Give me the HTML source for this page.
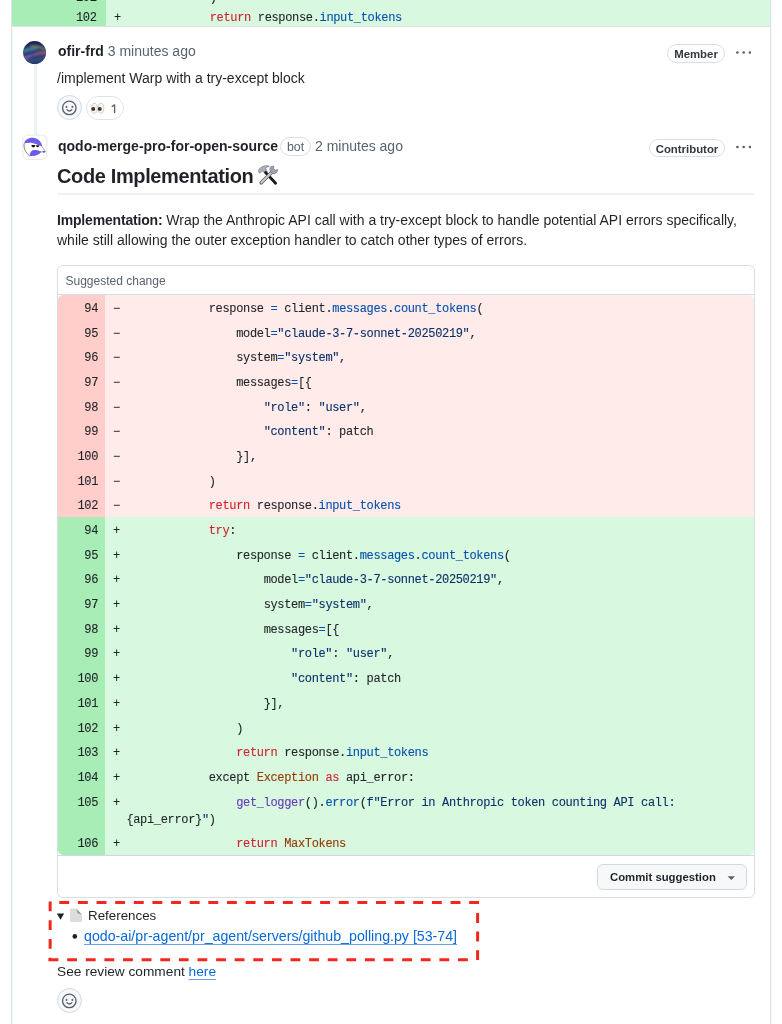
<!DOCTYPE html>
<html><head><meta charset="utf-8">
<style>
*{box-sizing:border-box;margin:0;padding:0}
html,body{width:782px;height:1024px;overflow:hidden;background:#fff}
body{position:relative;font-family:"Liberation Sans",sans-serif;color:#1f2328;font-size:14px}
.abs{position:absolute}
.mono{font-family:"Liberation Mono",monospace}
/* outer timeline container borders */
#lb{left:11px;top:0;width:1px;height:1024px;background:#dde2e7;box-shadow:0.6px 0 0 #f1f3f5}
#rb{left:770px;top:0;width:1px;height:1024px;background:#dde2e7;box-shadow:0.6px 0 0 #f1f3f5}
/* top diff row */
#toprow{left:12px;top:-14px;width:758px;height:40px;overflow:hidden}
.row{display:flex;width:100%}
.num{flex:none;text-align:right;font-family:"Liberation Mono",monospace;font-size:12px;letter-spacing:-0.34px;line-height:17px;padding:5.85px 7px 1.85px 0;color:#1f2328;-webkit-text-stroke:0.1px}
.t{display:inline-block;transform:scaleY(1.12);transform-origin:0 12px}
.code{flex:1;position:relative;font-family:"Liberation Mono",monospace;font-size:12px;letter-spacing:-0.34px;line-height:17px;padding:5.85px 10px 1.85px 21.4px;white-space:pre-wrap;word-wrap:break-word;color:#1f2328;-webkit-text-stroke:0.1px}
.mk{position:absolute;left:8px;top:5.85px}
.del .num{background:#ffcecb}
.del .code{background:#ffebe9}
.add .num{background:#a8ecb6}
.add .code{background:#d8f9df}
#sugg{left:57px;top:265px;width:698px;height:633px;border:1px solid #d8dee4;border-radius:6px}
#sugg .hdr{height:29px;border-bottom:1px solid #d8dee4;font-size:12px;color:#59636e;padding:8px 0 0 7.5px;line-height:14px}
#sugg .num{width:47px}
#toprow .num{width:94px;padding-right:9.5px}
.tl{left:33.6px;width:3px;background:#eff2f5}
.name{font-weight:bold}
.muted{color:#59636e}
.badge{border:1px solid #d8dee4;border-radius:10px;font-size:11.4px;font-weight:bold;color:#33393f;line-height:18px;text-align:center}
.btn-react{border-radius:50%;border:1px solid #d1d9e0;background:#f6f8fa}
</style></head>
<body>
<div id="root" style="position:absolute;left:0;top:0;width:782px;height:1024px;will-change:transform">
<div id="lb" class="abs"></div>
<div id="rb" class="abs"></div>

<div id="toprow" class="abs">
 <div class="row add" style="height:20px"><div class="num" style="padding-top:4px">101</div><div class="code" style="padding-top:4px"><span class="mk" style="top:4px">+</span>            )</div></div>
 <div class="row add" style="height:20px"><div class="num" style="padding-top:4px">102</div><div class="code" style="padding-top:4px"><span class="mk" style="top:4px">+</span>            <span style="color:#cf222e">return</span> response.<span style="color:#0550ae">input_tokens</span></div></div>
</div>
<div class="abs" style="left:12px;top:26px;width:758px;height:1px;background:#dde2e7"></div>

<!-- timeline line -->
<div class="abs tl" style="top:64px;height:72px"></div>

<!-- comment 1 -->
<svg class="abs" style="left:20px;top:38px" width="30" height="30" viewBox="0 0 30 30">
 <defs><clipPath id="av"><circle cx="14.6" cy="14.6" r="11.5"/></clipPath>
 <filter id="bl" x="-20%" y="-20%" width="140%" height="140%"><feGaussianBlur stdDeviation="0.9"/></filter>
 <linearGradient id="avg" x1="0" y1="0" x2="0" y2="1"><stop offset="0" stop-color="#16124a"/><stop offset=".45" stop-color="#2c3f72"/><stop offset="1" stop-color="#283a6c"/></linearGradient></defs>
 <g clip-path="url(#av)">
  <rect x="0" y="0" width="30" height="30" fill="url(#avg)"/>
  <g filter="url(#bl)">
   <path d="M3 12 C8 9 13 9 19 11 C14 12.5 8 13 3 15Z" fill="#3f8fa0" opacity=".8"/>
   <path d="M10 7.5 C15 6 20 7.5 26 10.5 L26 12.5 C20 10 15 9 10 9.5Z" fill="#7a8a66" opacity=".85"/>
   <path d="M14 16 C18 13.5 23 13 27 13.5 L27 16.5 C23 16 18 16.5 14 18Z" fill="#b05a7a" opacity=".8"/>
   <path d="M2 19 C7 18 12 16.5 16 15.5 C12 19 7 21 2 22Z" fill="#9466cc" opacity=".85"/>
   <path d="M5 23 C12 21 20 20 27 19 L27 21 C20 22 12 23 5 25Z" fill="#3c5a8a" opacity=".7"/>
  </g>
 </g>
</svg>
<div class="abs" style="left:58px;top:43px;white-space:nowrap;line-height:16px"><span class="name">ofir-frd</span> <span class="muted">3 minutes ago</span></div>
<div class="abs badge" style="left:667px;top:44px;width:58px;height:19px">Member</div>
<svg class="abs" style="left:735px;top:45px" width="16" height="16" viewBox="0 0 16 16"><circle cx="2.4" cy="7.5" r="1.35" fill="#59636e"/><circle cx="8.7" cy="7.5" r="1.35" fill="#59636e"/><circle cx="15" cy="7.5" r="1.35" fill="#59636e"/></svg>
<div class="abs" style="left:57px;top:70px;white-space:nowrap;line-height:16px">/implement Warp with a try-except block</div>

<!-- reactions -->
<div class="abs btn-react" style="left:57px;top:95px;width:25px;height:25px"></div>
<svg class="abs" style="left:55px;top:94px" width="30" height="28" viewBox="0 0 30 28"><circle cx="14.3" cy="13.9" r="6.75" fill="none" stroke="#59636e" stroke-width="1.35"/><ellipse cx="11.5" cy="12.9" rx=".95" ry="1.05" fill="#59636e"/><ellipse cx="17.4" cy="12.9" rx=".95" ry="1.05" fill="#59636e"/><path d="M12 15.8 Q14.4 18.2 16.8 15.8" fill="none" stroke="#59636e" stroke-width="1.35" stroke-linecap="round"/></svg>
<div class="abs" style="left:86px;top:96px;width:38px;height:24px;border:1px solid #dfe3e8;border-radius:12px"></div>
<svg class="abs" style="left:85px;top:95px" width="40" height="26" viewBox="0 0 40 26"><ellipse cx="9.4" cy="13.3" rx="2.9" ry="5" fill="#f7f7f7" stroke="#bcbcbc" stroke-width=".7"/><ellipse cx="15.9" cy="13.3" rx="2.9" ry="5" fill="#f7f7f7" stroke="#bcbcbc" stroke-width=".7"/><circle cx="8.3" cy="13.9" r="1.9" fill="#3b2310"/><circle cx="14.8" cy="13.9" r="1.9" fill="#3b2310"/><circle cx="8.8" cy="13.2" r=".5" fill="#9a6a3a"/><circle cx="15.3" cy="13.2" r=".5" fill="#9a6a3a"/></svg>
<svg class="abs" style="left:0;top:0" width="130" height="125" viewBox="0 0 130 125"><path d="M114.6 112.9 V104.9 L111.7 106.8" fill="none" stroke="#59636e" stroke-width="1.35" stroke-linejoin="round"/></svg>

<!-- comment 2 -->
<svg class="abs" style="left:20px;top:132px" width="30" height="30" viewBox="0 0 30 30">
 <rect x="2.7" y="3.1" width="24.2" height="24.3" rx="5" fill="#fff" stroke="#e3e3e3" stroke-width=".8"/>
 <path d="M4.2 11.5 C3.4 15.5 5.5 21 9.6 23.8" fill="none" stroke="#444" stroke-width=".65"/>
 <path d="M4.2 11.5 C5 7.5 9 5.8 13 5.8 C17.5 5.8 21.5 9.5 22.2 14.6 L17 12.5 C13 11 9 10.2 4.2 11.5Z" fill="#6b5bef"/>
 <path d="M9.6 23.8 C10 20.5 11.5 18 14 18 C17 18 19.5 18.6 21.5 19.8 C19 23 15 24.6 9.6 23.8Z" fill="#6b5bef"/>
 <path d="M11.3 13 H15.4 Q15 15.5 13.3 15.5 Q11.7 15.4 11.3 13Z" fill="#111"/>
 <path d="M16 13.2 H19.4 Q19 15.3 17.6 15.3 Q16.3 15.2 16 13.2Z" fill="#111"/>
 <path d="M21.8 14.4 L25.3 19.4 L21 20" fill="none" stroke="#555" stroke-width=".5"/>
 <ellipse cx="24" cy="19.8" rx="1.4" ry="1" fill="#6b5bef"/>
 <path d="M8 10.8 L8.5 9.6 L9 10.6 M13.6 10.3 L14 9.2 L14.4 10.2" fill="none" stroke="#888" stroke-width=".4"/>
</svg>
<div class="abs" style="left:58px;top:138px;white-space:nowrap;line-height:16px"><span class="name">qodo-merge-pro-for-open-source</span></div>
<div class="abs badge" style="left:280px;top:137px;width:31px;height:19px;font-weight:normal;color:#59636e;font-size:12.4px;line-height:18.5px">bot</div>
<div class="abs muted" style="left:315px;top:138px;white-space:nowrap;line-height:16px">2 minutes ago</div>
<div class="abs badge" style="left:649px;top:139px;width:76px;height:18px">Contributor</div>
<svg class="abs" style="left:735px;top:139px" width="16" height="16" viewBox="0 0 16 16"><circle cx="2.4" cy="8" r="1.35" fill="#59636e"/><circle cx="8.7" cy="8" r="1.35" fill="#59636e"/><circle cx="15" cy="8" r="1.35" fill="#59636e"/></svg>

<div class="abs" style="left:57px;top:164px;white-space:nowrap;font-size:20px;letter-spacing:-0.37px;font-weight:bold;line-height:24px">Code Implementation</div>
<svg class="abs" style="left:254px;top:160px" width="30" height="30" viewBox="0 0 30 30">
 <path d="M4.3 10.6 C5.5 7.8 8.5 5.9 11.5 5.7 C13.2 5.6 14.8 5.9 15.4 6.4 C13.5 6.6 12.3 7.3 11.8 8.5 L13.3 12 L11.2 13.6 L8.6 11.2 C7.5 11.5 6.5 12.4 6 13.2 C5 12.8 4.2 11.8 4.3 10.6Z" fill="#a9b2bd" stroke="#55585e" stroke-width=".5"/>
 <path d="M11.6 12.6 L21.6 23.2" stroke="#1b1b1e" stroke-width="2.9" stroke-linecap="round"/>
 <path d="M17.5 12.5 L7.2 22.8" stroke="#5d5a60" stroke-width="3.6" stroke-linecap="round"/>
 <path d="M17.3 12.7 L7.4 22.6" stroke="#c4cad3" stroke-width="2.1" stroke-linecap="round"/>
 <path d="M16.3 7.2 C15.2 9.8 16 12.5 18.4 13.4 C21 14.3 23.5 12.8 23.8 9.4 L21.6 10.3 L19.6 8.8 L19.8 6.2 C18.4 6 17 6.4 16.3 7.2Z" fill="#9aa3ad" stroke="#5a5d63" stroke-width=".5"/>
</svg>
<div class="abs" style="left:57px;top:193px;width:697px;height:2px;background:#eff1f3"></div>

<div class="abs" style="left:57px;top:211px;width:700px;line-height:19.5px"><b style="letter-spacing:-0.18px">Implementation:</b> Wrap the Anthropic API call with a try-except block to handle potential API errors specifically, while still allowing the outer exception handler to catch other types of errors.</div>

<!-- suggested change -->
<div id="sugg" class="abs">
 <div class="hdr">Suggested change</div>
 <div style="position:relative;border-radius:5px;overflow:hidden">
<div class="row del"><div class="num">94</div><div class="code"><span class="mk">&minus;</span>            response <span style="color:#0550ae">=</span> client.<span style="color:#0550ae">messages</span>.<span style="color:#0550ae">count_tokens</span>(</div></div>
<div class="row del"><div class="num">95</div><div class="code"><span class="mk">&minus;</span>                model<span style="color:#0550ae">=</span><span style="color:#0a3069">"claude-3-7-sonnet-20250219"</span>,</div></div>
<div class="row del"><div class="num">96</div><div class="code"><span class="mk">&minus;</span>                system<span style="color:#0550ae">=</span><span style="color:#0a3069">"system"</span>,</div></div>
<div class="row del"><div class="num">97</div><div class="code"><span class="mk">&minus;</span>                messages<span style="color:#0550ae">=</span>[{</div></div>
<div class="row del"><div class="num">98</div><div class="code"><span class="mk">&minus;</span>                    <span style="color:#0a3069">"role"</span>: <span style="color:#0a3069">"user"</span>,</div></div>
<div class="row del"><div class="num">99</div><div class="code"><span class="mk">&minus;</span>                    <span style="color:#0a3069">"content"</span>: patch</div></div>
<div class="row del"><div class="num">100</div><div class="code"><span class="mk">&minus;</span>                }],</div></div>
<div class="row del"><div class="num">101</div><div class="code"><span class="mk">&minus;</span>            )</div></div>
<div class="row del"><div class="num">102</div><div class="code"><span class="mk">&minus;</span>            <span style="color:#cf222e">return</span> response.<span style="color:#0550ae">input_tokens</span></div></div>
<div class="row add"><div class="num">94</div><div class="code"><span class="mk">+</span>            <span style="color:#cf222e">try</span>:</div></div>
<div class="row add"><div class="num">95</div><div class="code"><span class="mk">+</span>                response <span style="color:#0550ae">=</span> client.<span style="color:#0550ae">messages</span>.<span style="color:#0550ae">count_tokens</span>(</div></div>
<div class="row add"><div class="num">96</div><div class="code"><span class="mk">+</span>                    model<span style="color:#0550ae">=</span><span style="color:#0a3069">"claude-3-7-sonnet-20250219"</span>,</div></div>
<div class="row add"><div class="num">97</div><div class="code"><span class="mk">+</span>                    system<span style="color:#0550ae">=</span><span style="color:#0a3069">"system"</span>,</div></div>
<div class="row add"><div class="num">98</div><div class="code"><span class="mk">+</span>                    messages<span style="color:#0550ae">=</span>[{</div></div>
<div class="row add"><div class="num">99</div><div class="code"><span class="mk">+</span>                        <span style="color:#0a3069">"role"</span>: <span style="color:#0a3069">"user"</span>,</div></div>
<div class="row add"><div class="num">100</div><div class="code"><span class="mk">+</span>                        <span style="color:#0a3069">"content"</span>: patch</div></div>
<div class="row add"><div class="num">101</div><div class="code"><span class="mk">+</span>                    }],</div></div>
<div class="row add"><div class="num">102</div><div class="code"><span class="mk">+</span>                )</div></div>
<div class="row add"><div class="num">103</div><div class="code"><span class="mk">+</span>                <span style="color:#cf222e">return</span> response.<span style="color:#0550ae">input_tokens</span></div></div>
<div class="row add"><div class="num">104</div><div class="code"><span class="mk">+</span>            except <span style="color:#953800">Exception</span> <span style="color:#cf222e">as</span> api_error:</div></div>
<div class="row add"><div class="num" style="padding-bottom:2.05px">105</div><div class="code" style="padding-bottom:2.05px"><span class="mk">+</span>                <span style="color:#6639ba">get_logger</span>().<span style="color:#0550ae">error</span>(<span style="color:#0a3069">f"Error in Anthropic token counting API call:</span> {api_error}<span style="color:#0a3069">"</span>)</div></div>
<div class="row add"><div class="num">106</div><div class="code"><span class="mk">+</span>                <span style="color:#cf222e">return</span> <span style="color:#953800">MaxTokens</span></div></div>
 </div>
 <div style="height:1px;background:#d1d9e0"></div>
 <div class="abs" style="left:539px;top:598px;width:150px;height:26px;border:1px solid #d1d9e0;border-radius:6px;background:#f6f8fa"></div>
 <div class="abs" style="left:552px;top:604px;font-size:11.35px;font-weight:bold;line-height:14px;white-space:nowrap">Commit suggestion</div>
 <svg class="abs" style="left:665px;top:603px" width="16" height="16" viewBox="0 0 16 16"><path d="M4.6 7.3 H12 L8.3 11Z" fill="#59636e"/></svg>
</div>

<!-- references -->
<svg class="abs" style="left:0;top:0" width="782" height="1024" viewBox="0 0 782 1024">
 <path d="M56.8 913.4 H64.2 L60.5 919.8Z" fill="#1f2328"/>
 <path d="M70.3 908.8 H76.8 L81.9 914.6 V922.1 H70.3Z" fill="#e2e2e2"/>
 <path d="M70.3 908.8 H76.8 L77 914.4 L81.9 914.6 V922.1 H70.3Z" fill="#dcdcdc"/>
 <path d="M76.4 908.8 L81.9 914.6 L77.6 913.6Z" fill="#9a9a9a"/>
 <circle cx="74.8" cy="936.4" r="2.3" fill="#1f2328"/>
 <g stroke="#f2281c" stroke-width="3" fill="none">
  <path d="M59.3 902.4 H479.1" stroke-dasharray="9.9 8.73"/>
  <path d="M48.6 959.8 H470" stroke-dasharray="9.8 8.81"/>
  <path d="M50.15 901.6 V961" stroke-dasharray="9.7 9"/>
  <path d="M477.6 913 V960.5" stroke-dasharray="9.9 8.7"/>
 </g>
</svg>
<div class="abs" style="left:88px;top:908px;font-size:13.35px;line-height:16px;white-space:nowrap">References</div>
<div class="abs" style="left:84px;top:928px;font-size:14.2px;line-height:16px;white-space:nowrap;color:#0969da;text-decoration:underline;text-underline-offset:2.6px;text-decoration-skip-ink:none;text-decoration-color:#6ea2e6">qodo-ai/pr-agent/pr_agent/servers/github_polling.py [53-74]</div>

<div class="abs" style="left:57px;top:964px;font-size:13.7px;line-height:16px;white-space:nowrap">See review comment <span style="color:#0969da;text-decoration:underline;text-underline-offset:2.6px;text-decoration-skip-ink:none;text-decoration-color:#6ea2e6">here</span></div>
<div class="abs btn-react" style="left:57px;top:988px;width:25px;height:25px"></div>
<svg class="abs" style="left:55px;top:986.5px" width="30" height="28" viewBox="0 0 30 28"><circle cx="14.3" cy="13.9" r="6.75" fill="none" stroke="#59636e" stroke-width="1.35"/><ellipse cx="11.5" cy="12.9" rx=".95" ry="1.05" fill="#59636e"/><ellipse cx="17.4" cy="12.9" rx=".95" ry="1.05" fill="#59636e"/><path d="M12 15.8 Q14.4 18.2 16.8 15.8" fill="none" stroke="#59636e" stroke-width="1.35" stroke-linecap="round"/></svg>
</div>
</body></html>
